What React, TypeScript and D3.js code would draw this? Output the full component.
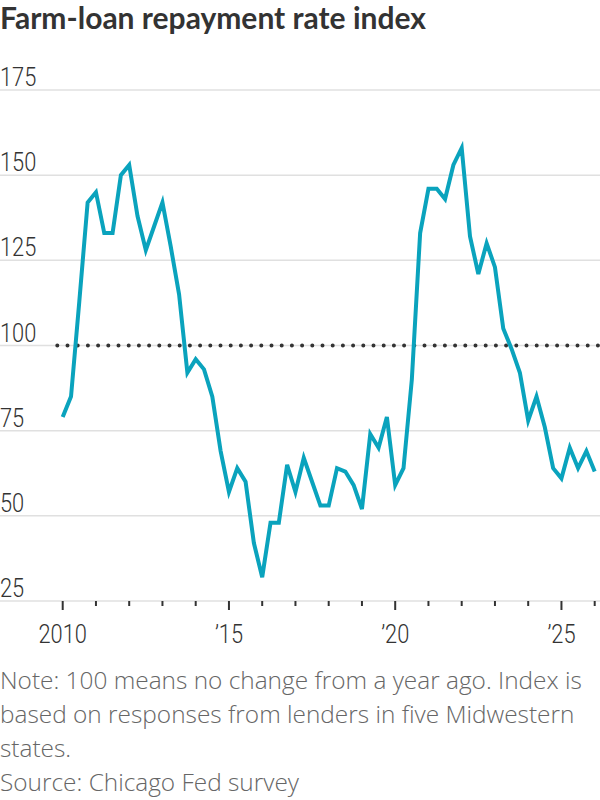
import React, { useEffect, useRef } from "react";
import * as d3 from "d3";

const title = "Farm-loan repayment rate index";
const noteLines = [
  "Note: 100 means no change from a year ago. Index is",
  "based on responses from lenders in five Midwestern",
  "states.",
];
const sourceLine = "Source: Chicago Fed survey";

// quarterly readings, starting 2010 Q1
const firstYear = 2010;
const repaymentIndex = [
  79, 85, 113, 142, // 2010
  145, 133, 133, 150, // 2011
  153, 138, 128, 135, // 2012
  142, 129, 115, 92, // 2013
  96, 93, 85, 69, // 2014
  57, 64, 60, 42, // 2015
  32, 48, 48, 65, // 2016
  57, 67, 60, 53, // 2017
  53, 64, 63, 59, // 2018
  52, 74, 70, 79, // 2019
  59, 64, 90, 133, // 2020
  146, 146, 143, 153, // 2021
  158, 132, 121, 130, // 2022
  123, 105, 99, 92, // 2023
  78, 85, 76, 64, // 2024
  61, 70, 64, 69, // 2025
  63, // 2026
];

const yTicks = [25, 50, 75, 100, 125, 150, 175];
const tickYears = d3.range(2010, 2027);
const labelYears = [2010, 2015, 2020, 2025];
const labelTexts = ["2010", "\u201915", "\u201920", "\u201925"];
const baseline = 100;

const W = 600;
const H = 800;
// no narrow face installed, so squeeze a light sans horizontally
const axisFont = "Roboto, sans-serif";
const squeeze = 0.84;

const App = () => {
  const svgRef = useRef<SVGSVGElement>(null);

  useEffect(() => {
    const svg = d3.select(svgRef.current);
    svg.selectAll("*").remove();

    const x = d3.scaleLinear().domain([2010, 2026]).range([62.7, 594.7]);
    const y = d3.scaleLinear().domain([25, 175]).range([601, 90]);

    svg
      .append("text")
      .attr("x", 0)
      .attr("y", 29)
      .attr("font-family", "Lato, sans-serif")
      .attr("font-weight", 700)
      .attr("font-size", 30)
      .attr("fill", "#333")
      .text(title);

    // gridlines + y labels
    const grid = svg.append("g");
    grid
      .selectAll("line")
      .data(yTicks)
      .join("line")
      .attr("x1", 0)
      .attr("x2", W)
      .attr("y1", (d) => y(d))
      .attr("y2", (d) => y(d))
      .attr("stroke", "#e0e0e0")
      .attr("stroke-width", 1.5);
    grid
      .selectAll("text")
      .data(yTicks)
      .join("text")
      .attr("transform", (d) => `translate(0,${y(d) - 4}) scale(${squeeze},1)`)
      .attr("font-family", axisFont)
      .attr("font-weight", 300)
      .attr("font-size", 26)
      .attr("fill", "#333")
      .text((d) => d);

    // x ticks
    svg
      .append("g")
      .selectAll("line")
      .data(tickYears)
      .join("line")
      .attr("x1", (d) => x(d))
      .attr("x2", (d) => x(d))
      .attr("y1", y(25))
      .attr("y2", (d) => y(25) + (d % 5 === 0 ? 9 : 5))
      .attr("stroke", "#333")
      .attr("stroke-width", 2);

    svg
      .append("g")
      .selectAll("text")
      .data(labelYears)
      .join("text")
      .attr("transform", (d) => `translate(${x(d)},643) scale(${squeeze},1)`)
      .attr("text-anchor", "middle")
      .attr("font-family", axisFont)
      .attr("font-weight", 300)
      .attr("font-size", 26)
      .attr("fill", "#333")
      .text((d, i) => labelTexts[i]);

    // dotted 100 line
    svg
      .append("line")
      .attr("x1", x(2010) - 5.4)
      .attr("x2", W)
      .attr("y1", y(baseline))
      .attr("y2", y(baseline))
      .attr("stroke", "#333")
      .attr("stroke-width", 4)
      .attr("stroke-linecap", "round")
      .attr("stroke-dasharray", "0 10.2");

    const line = d3
      .line<number>()
      .x((d, i) => x(firstYear + i / 4))
      .y((d) => y(d));

    svg
      .append("path")
      .datum(repaymentIndex)
      .attr("fill", "none")
      .attr("stroke", "#0aa3bd")
      .attr("stroke-width", 4)
      .attr("d", line);

    const notes = svg
      .append("g")
      .attr("font-family", "'Open Sans', sans-serif")
      .attr("font-weight", 300)
      .attr("font-size", 24.4)
      .attr("fill", "#666");
    noteLines.concat([sourceLine]).forEach((t, i) => {
      notes
        .append("text")
        .attr("x", 0)
        .attr("y", 689 + i * 34)
        .text(t);
    });
  }, []);

  return (
    <svg
      ref={svgRef}
      width={W}
      height={H}
      style={{ position: "absolute", left: 0, top: 0, background: "#fff" }}
    ></svg>
  );
};

export default App;
